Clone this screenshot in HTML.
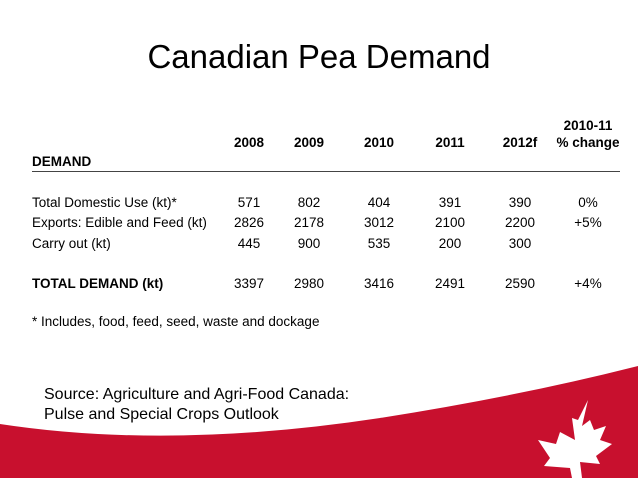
<!DOCTYPE html>
<html><head><meta charset="utf-8"><style>
body{margin:0;width:638px;height:478px;overflow:hidden;background:#fff;font-family:"Liberation Sans",Arial,sans-serif;position:relative}
.t{position:absolute;font-size:13.5px;color:#000;white-space:nowrap}
.c{transform:translateX(-50%)}
.b{font-weight:bold}
</style></head><body>
<svg width="638" height="478" style="position:absolute;left:0;top:0">
<path d="M0,424 Q170,450 380,418 Q520,396 638,366 L638,478 L0,478 Z" fill="#c8102e"/>
<path d="M588,400 L578,420 L572,418 L575,440 L560,432 L556,444 L538,440 L550,458 L544,466 L570,468 L572,478 L582,478 L580,462 L600,464 L596,456 L612,444 L600,440 L606,426 L594,430 L590,420 L582,426 Z" fill="#fff"/>
</svg>
<div style="position:absolute;left:0;width:638px;top:38px;text-align:center;font-size:33px;color:#000">Canadian Pea Demand</div>
<div id="tbl"></div>
<div style="position:absolute;left:32px;top:171px;width:588px;height:1px;background:#444"></div>
<div style="position:absolute;left:44px;top:385px;font-size:16px;line-height:20px;color:#000">Source: Agriculture and Agri-Food Canada:<br>Pulse and Special Crops Outlook</div>
<script>
const years=["2008","2009","2010","2011","2012f"];
const rowLabels=["Total Domestic Use (kt)*","Exports: Edible and Feed (kt)","Carry out (kt)","TOTAL DEMAND (kt)"];
const domestic=["571","802","404","391","390","0%"];
const exportsV=["2826","2178","3012","2100","2200","+5%"];
const carry=["445","900","535","200","300",""];
const total=["3397","2980","3416","2491","2590","+4%"];
const cx=[249,309,379,450,520,588];
const root=document.getElementById('tbl');
function add(txt,x,y,cls,name){const d=document.createElement('div');d.className='t '+cls;d.textContent=txt;d.style.left=x+'px';d.style.top=y+'px';


root.appendChild(d);}
add('2010-11',cx[5],118,'c b','change-header-line1');
years.forEach((y,i)=>add(y,cx[i],135,'c b','year-header-'+y));
add('% change',cx[5],135,'c b','change-header-line2');
add('DEMAND',32,154,'b','demand-label');
const rows=[domestic,exportsV,carry,total];const ys=[195,215,236,276];
rows.forEach((r,ri)=>{add(rowLabels[ri],32,ys[ri],ri==3?'b':'','row-label-'+ri);
r.forEach((v,i)=>{if(v)add(v,cx[i],ys[ri],'c','cell-'+ri+'-'+i);});});
add('* Includes, food, feed, seed, waste and dockage',32,314,'','footnote');
</script>
</body></html>
